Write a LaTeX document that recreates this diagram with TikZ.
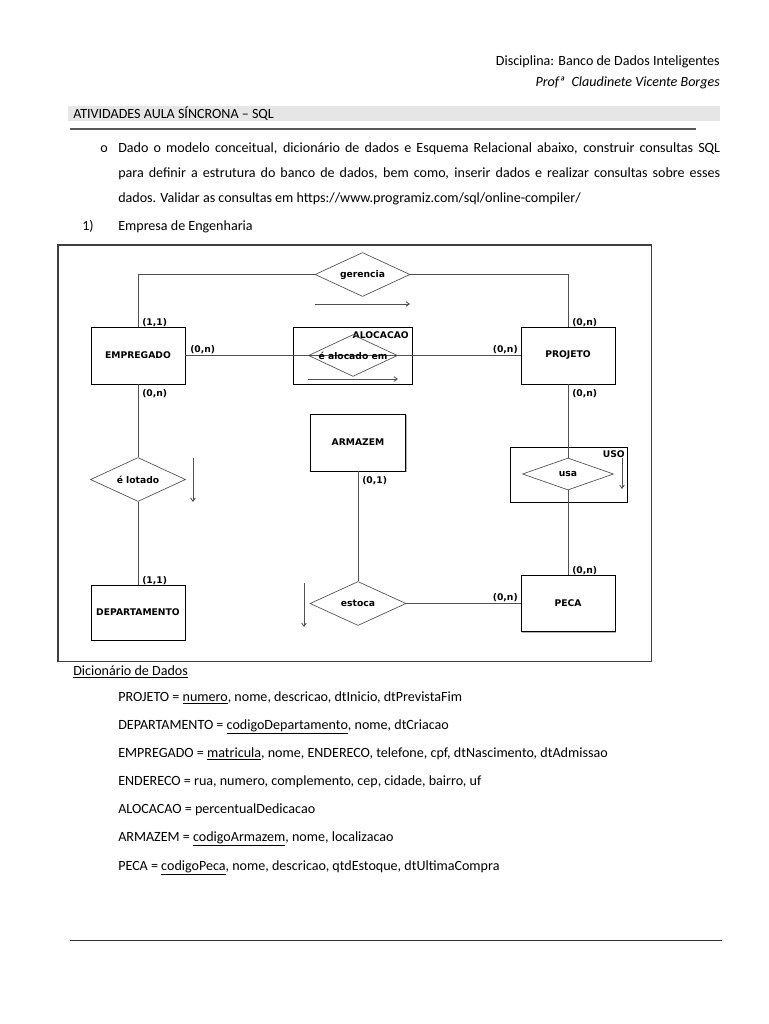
\documentclass[tikz,border=0pt]{standalone}
\usepackage{fontspec}
\setmainfont{Carlito}
\newfontfamily\erfont{DejaVu Sans}
\usetikzlibrary{shapes.geometric,arrows.meta,shadows}
\definecolor{barcol}{HTML}{E7E6E6}
\definecolor{rulecol}{HTML}{595959}
\definecolor{lncol}{HTML}{505050}
\definecolor{framecol}{HTML}{404040}
\begin{document}
\begin{tikzpicture}[x=0.75pt,y=-0.75pt,
  body/.style={font=\fontsize{10.55pt}{12pt}\selectfont, inner sep=0, anchor=base west},
  erf/.style={font=\erfont\bfseries\fontsize{6.9pt}{8pt}\selectfont},
  ent/.style={erf, draw=black, line width=0.6pt, fill=white, inner sep=0,
    drop shadow={shadow xshift=1pt,shadow yshift=-1pt,fill=black!50,opacity=0.6}},
  rel/.style={erf, diamond, draw=lncol, line width=0.5pt, fill=white, inner sep=0, aspect=2},
  card/.style={erf, inner sep=0},
  conn/.style={draw=lncol, line width=0.6pt},
  dirarrow/.style={draw=lncol, line width=0.6pt, -{Straight Barb[length=2.5pt,width=3.5pt]}},
]
\useasboundingbox (0,0) rectangle (768,1024);
\fill[white] (0,0) rectangle (768,1024);

% header
\node[body, anchor=base east] (disc) at (720,65) {Disciplina: Banco de Dados Inteligentes};
\node[body, anchor=base east] (prof) at (720,87) {\itshape Profª\ \ Claudinete Vicente Borges};
\fill[barcol] (68,106) rectangle (720,121);
\node[body] (ativ) at (73,118) {ATIVIDADES AULA SÍNCRONA – SQL};
\draw[rulecol, line width=1.5pt] (70,128.5) -- (696,128.5);

% paragraph
\node[body] (bul) at (100,152) {o};
\node[body] (p1) at (118,152) {\makebox[451.5pt][s]{Dado o modelo conceitual, dicionário de dados e Esquema Relacional abaixo, construir consultas SQL}};
\node[body] (p2) at (118,177) {\makebox[451.5pt][s]{para definir a estrutura do banco de dados, bem como, inserir dados e realizar consultas sobre esses}};
\node[body] (p3) at (118,202) {dados. Validar as consultas em https://www.programiz.com/sql/online-compiler/};
\node[body] (num) at (82,230) {1)};
\node[body] (emptit) at (118,230) {Empresa de Engenharia};

% frame
\draw[framecol, line width=1.1pt] (58,245) rectangle (651.5,661.5);

% boxes (aggregations)
\node[ent, minimum width=89.25pt, minimum height=42.75pt] (aloc) at (352.5,355.5) {};
\node[card, anchor=north east] (aloclab) at (409,331) {ALOCACAO};
\node[ent, minimum width=87.75pt, minimum height=41.25pt] (uso) at (568.5,474.5) {};
\node[card, anchor=north east] (usolab) at (625,450.5) {USO};

% entities
\node[ent, minimum width=70.5pt, minimum height=42.75pt] (emp) at (138,355.5) {EMPREGADO};
\node[ent, minimum width=70.5pt, minimum height=42.75pt] (proj) at (568,355.5) {PROJETO};
\node[ent, minimum width=71.25pt, minimum height=42.75pt] (arm) at (358,442.5) {ARMAZEM};
\node[ent, minimum width=70.5pt, minimum height=41.25pt] (dep) at (138,612.5) {DEPARTAMENTO};
\node[ent, minimum width=70.5pt, minimum height=42pt] (peca) at (568,603.5) {PECA};

% relationships
\node[rel, minimum width=71.25pt, minimum height=33pt] (ger) at (362.5,274.5) {gerencia};
\node[rel, minimum width=71.25pt, minimum height=33pt] (lot) at (138,479.5) {é lotado};
\node[rel, minimum width=72pt, minimum height=33pt] (est) at (358,603.5) {estoca};
\node[rel, minimum width=68.25pt, minimum height=24pt] (usa) at (568,474) {usa};

% connectors
\draw[conn] (emp.north) |- (ger.west);
\draw[conn] (ger.east) -| (proj.north);
\draw[conn] (emp.east) -- (proj.west);
\node[rel, fill=none, minimum width=66.75pt, minimum height=23.25pt] (alo) at (353,355.5) {é alocado em};
\draw[conn] (emp.south) -- (lot.north);
\draw[conn] (lot.south) -- (dep.north);
\draw[conn] (proj.south) -- (usa.north);
\draw[conn] (usa.south) -- (peca.north);
\draw[conn] (arm.south) -- (est.north);
\draw[conn] (est.east) -- (peca.west);

% direction arrows
\coordinate (a1s) at (315,304); \coordinate (a1e) at (410,304);
\draw[dirarrow] (a1s) -- (a1e);
\coordinate (a2s) at (308,379); \coordinate (a2e) at (398,379);
\draw[dirarrow] (a2s) -- (a2e);
\coordinate (a3s) at (193,458); \coordinate (a3e) at (193,502);
\draw[dirarrow] (a3s) -- (a3e);
\coordinate (a4s) at (622,458); \coordinate (a4e) at (622,489);
\draw[dirarrow] (a4s) -- (a4e);
\coordinate (a5s) at (304,583); \coordinate (a5e) at (304,627);
\draw[dirarrow] (a5s) -- (a5e);

% cardinalities
\node[card, anchor=south west] (c1) at (142,327) {(1,1)};
\node[card, anchor=south west] (c2) at (190,354) {(0,n)};
\node[card, anchor=north west] (c3) at (142,389) {(0,n)};
\node[card, anchor=south west] (c4) at (572,327) {(0,n)};
\node[card, anchor=south east] (c5) at (518,354) {(0,n)};
\node[card, anchor=north west] (c6) at (572,389) {(0,n)};
\node[card, anchor=south west] (c7) at (142,585) {(1,1)};
\node[card, anchor=north west] (c8) at (362,476) {(0,1)};
\node[card, anchor=south west] (c9) at (572,575) {(0,n)};
\node[card, anchor=south east] (c10) at (518,602) {(0,n)};

% dictionary
\node[body] (dic) at (73,675) {\underline{Dicionário de Dados}};
\node[body] (d1) at (118,701) {PROJETO = \underline{numero}, nome, descricao, dtInicio, dtPrevistaFim};
\node[body] (d2) at (118,729) {DEPARTAMENTO = \underline{codigoDepartamento}, nome, dtCriacao};
\node[body] (d3) at (118,757) {EMPREGADO = \underline{matricula}, nome, ENDERECO, telefone, cpf, dtNascimento, dtAdmissao};
\node[body] (d4) at (118,785) {ENDERECO = rua, numero, complemento, cep, cidade, bairro, uf};
\node[body] (d5) at (118,813) {ALOCACAO = percentualDedicacao};
\node[body] (d6) at (118,841) {ARMAZEM = \underline{codigoArmazem}, nome, localizacao};
\node[body] (d7) at (118,870) {PECA = \underline{codigoPeca}, nome, descricao, qtdEstoque, dtUltimaCompra};

% footer rule
\draw[black!80, line width=0.6pt] (70,940) -- (722,940);
\end{tikzpicture}
\end{document}
